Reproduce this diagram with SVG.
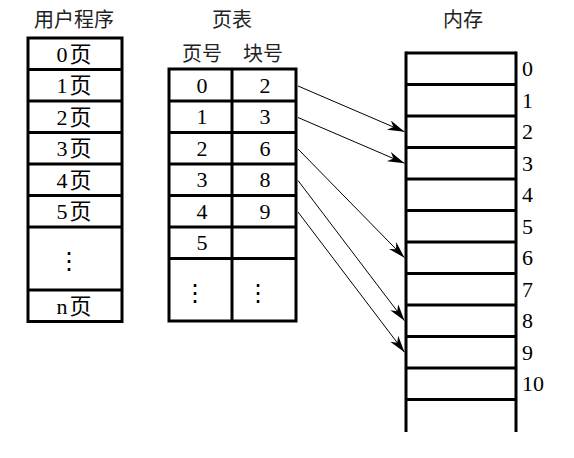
<svg xmlns="http://www.w3.org/2000/svg" width="574" height="458" viewBox="0 0 574 458">
<style>
.box{fill:none;stroke:#000;stroke-width:3}
.ln{stroke:#000;stroke-width:3}
.t{font-family:"Liberation Serif","Noto Sans CJK SC",serif;font-size:22px;fill:#000;text-anchor:middle}
.h{font-family:"Noto Sans CJK SC",sans-serif;font-size:20px;fill:#222;text-anchor:middle}
.n{font-family:"Liberation Serif",serif;font-size:22px;fill:#000}
.d{font-family:"DejaVu Sans",sans-serif;font-size:24px;fill:#000;text-anchor:middle}
.a{stroke:#000;stroke-width:1;fill:none}
</style>
<defs>
<marker id="ah" markerUnits="userSpaceOnUse" markerWidth="20" markerHeight="12" refX="17" refY="5" orient="auto">
<path d="M0,0 L17,5 L0,10 L5,5 Z" fill="#000"/>
</marker>
</defs>
<rect width="574" height="458" fill="#fff"/>
<g id="user-program">
<text class="h" x="74" y="27">用户程序</text>
<rect class="box" x="28" y="38" width="94" height="283.5"/>
<line class="ln" x1="28" y1="69.5" x2="122" y2="69.5"/>
<line class="ln" x1="28" y1="101" x2="122" y2="101"/>
<line class="ln" x1="28" y1="132.5" x2="122" y2="132.5"/>
<line class="ln" x1="28" y1="164" x2="122" y2="164"/>
<line class="ln" x1="28" y1="195.5" x2="122" y2="195.5"/>
<line class="ln" x1="28" y1="227" x2="122" y2="227"/>
<line class="ln" x1="28" y1="290" x2="122" y2="290"/>
<text class="t" x="74" y="61.5">0<tspan dx="2">页</tspan></text>
<text class="t" x="74" y="93">1<tspan dx="2">页</tspan></text>
<text class="t" x="74" y="124.5">2<tspan dx="2">页</tspan></text>
<text class="t" x="74" y="156">3<tspan dx="2">页</tspan></text>
<text class="t" x="74" y="187.5">4<tspan dx="2">页</tspan></text>
<text class="t" x="74" y="219">5<tspan dx="2">页</tspan></text>
<text class="d" x="69" y="269">⋮</text>
<text class="t" x="74" y="313.5">n<tspan dx="2">页</tspan></text>
</g>
<g id="page-table">
<text class="h" x="232" y="27">页表</text>
<text class="h" x="202" y="61">页号</text>
<text class="h" x="263" y="61">块号</text>
<rect class="box" x="169" y="69" width="127" height="252"/>
<line class="ln" x1="232" y1="69" x2="232" y2="321"/>
<line class="ln" x1="169" y1="101" x2="296" y2="101"/>
<line class="ln" x1="169" y1="132.5" x2="296" y2="132.5"/>
<line class="ln" x1="169" y1="164" x2="296" y2="164"/>
<line class="ln" x1="169" y1="195.5" x2="296" y2="195.5"/>
<line class="ln" x1="169" y1="227" x2="296" y2="227"/>
<line class="ln" x1="169" y1="258.5" x2="296" y2="258.5"/>
<text class="t" x="202" y="92.5">0</text><text class="t" x="265" y="92.5">2</text>
<text class="t" x="202" y="124">1</text><text class="t" x="265" y="124">3</text>
<text class="t" x="202" y="155.5">2</text><text class="t" x="265" y="155.5">6</text>
<text class="t" x="202" y="187">3</text><text class="t" x="265" y="187">8</text>
<text class="t" x="202" y="218.5">4</text><text class="t" x="265" y="218.5">9</text>
<text class="t" x="202" y="250">5</text>
<text class="d" x="195" y="301">⋮</text>
<text class="d" x="258" y="301">⋮</text>
</g>
<g id="memory">
<text class="h" x="463" y="27">内存</text>
<line class="ln" x1="406" y1="51.5" x2="406" y2="432"/>
<line class="ln" x1="516" y1="51.5" x2="516" y2="432"/>
<line class="ln" x1="406" y1="53" x2="516" y2="53"/>
<line class="ln" x1="406" y1="84.5" x2="516" y2="84.5"/>
<line class="ln" x1="406" y1="116" x2="516" y2="116"/>
<line class="ln" x1="406" y1="147.5" x2="516" y2="147.5"/>
<line class="ln" x1="406" y1="179" x2="516" y2="179"/>
<line class="ln" x1="406" y1="210.5" x2="516" y2="210.5"/>
<line class="ln" x1="406" y1="242" x2="516" y2="242"/>
<line class="ln" x1="406" y1="273.5" x2="516" y2="273.5"/>
<line class="ln" x1="406" y1="305" x2="516" y2="305"/>
<line class="ln" x1="406" y1="336.5" x2="516" y2="336.5"/>
<line class="ln" x1="406" y1="368" x2="516" y2="368"/>
<line class="ln" x1="406" y1="399.5" x2="516" y2="399.5"/>
<text class="n" x="522" y="76">0</text>
<text class="n" x="522" y="107.5">1</text>
<text class="n" x="522" y="139">2</text>
<text class="n" x="522" y="170.5">3</text>
<text class="n" x="522" y="202">4</text>
<text class="n" x="522" y="233.5">5</text>
<text class="n" x="522" y="265">6</text>
<text class="n" x="522" y="296.5">7</text>
<text class="n" x="522" y="328">8</text>
<text class="n" x="522" y="359.5">9</text>
<text class="n" x="522" y="391">10</text>
</g>
<g id="connectors">
<line class="a" x1="298" y1="86" x2="404.5" y2="131.75" marker-end="url(#ah)"/>
<line class="a" x1="298" y1="117.5" x2="404.5" y2="163.25" marker-end="url(#ah)"/>
<line class="a" x1="298" y1="149" x2="404.5" y2="257.75" marker-end="url(#ah)"/>
<line class="a" x1="298" y1="180.5" x2="404.5" y2="320.75" marker-end="url(#ah)"/>
<line class="a" x1="298" y1="212" x2="404.5" y2="352.25" marker-end="url(#ah)"/>
</g>
</svg>
